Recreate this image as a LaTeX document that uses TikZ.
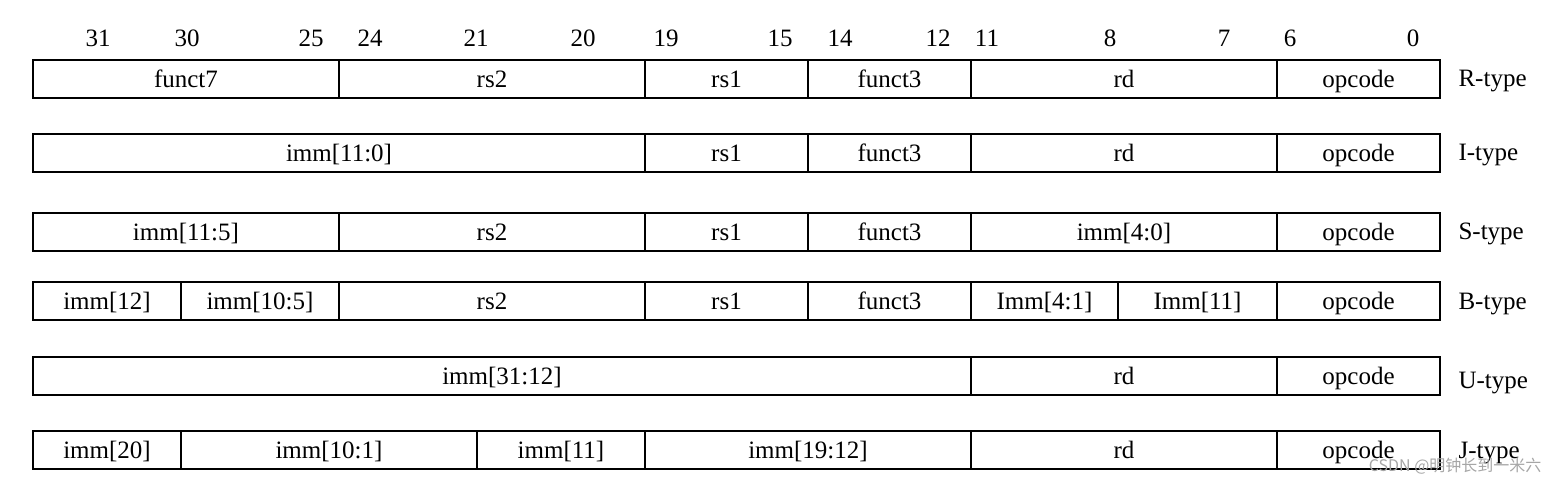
\documentclass[tikz,border=0pt]{standalone}
\usepackage{fontspec}
\setmainfont{Liberation Serif}
\newfontfamily\cjk{Noto Sans CJK SC}
\newcommand{\fld}[6]{\node[fieldbox, minimum width={#3-#2}, minimum height={#5-#4}] (#1) at ({(#2+#3)/2},{(#4+#5)/2}) {#6};}
\begin{document}
\begin{tikzpicture}[x=1pt,y=-1pt,
  fieldbox/.style={draw, line width=1.2pt, inner sep=0pt, outer sep=0pt, font=\fontsize{25}{27}\selectfont, text depth=0pt, anchor=center},
  bitnum/.style={font=\fontsize{25}{27}\selectfont},
  typelab/.style={font=\fontsize{25}{27}\selectfont, anchor=base west}]
\useasboundingbox (0,0) rectangle (1558,486);
% bit numbers
\foreach \v/\x in {31/98,30/187,25/311,24/370,21/476,20/583,19/666,15/780,14/840,12/938,11/987,8/1110,7/1224,6/1290,0/1413}
  \node[bitnum] (b\v) at (\x,38) {\v};
% R
\fld{r1}{33}{339}{60}{98}{funct7}
\fld{r2}{339}{645}{60}{98}{rs2}
\fld{r3}{645}{808}{60}{98}{rs1}
\fld{r4}{808}{971}{60}{98}{funct3}
\fld{r5}{971}{1277}{60}{98}{rd}
\fld{r6}{1277}{1440}{60}{98}{opcode}
\node[typelab] (rt) at (1455,87) {R-type};
% I
\fld{i1}{33}{645}{134}{172}{imm[11:0]}
\fld{i3}{645}{808}{134}{172}{rs1}
\fld{i4}{808}{971}{134}{172}{funct3}
\fld{i5}{971}{1277}{134}{172}{rd}
\fld{i6}{1277}{1440}{134}{172}{opcode}
\node[typelab] (it) at (1455,161) {I-type};
% S
\fld{s1}{33}{339}{213}{251}{imm[11:5]}
\fld{s2}{339}{645}{213}{251}{rs2}
\fld{s3}{645}{808}{213}{251}{rs1}
\fld{s4}{808}{971}{213}{251}{funct3}
\fld{s5}{971}{1277}{213}{251}{imm[4:0]}
\fld{s6}{1277}{1440}{213}{251}{opcode}
\node[typelab] (st) at (1455,240) {S-type};
% B
\fld{bb0}{33}{181}{282}{320}{imm[12]}
\fld{bb1}{181}{339}{282}{320}{imm[10:5]}
\fld{bb2}{339}{645}{282}{320}{rs2}
\fld{bb3}{645}{808}{282}{320}{rs1}
\fld{bb4}{808}{971}{282}{320}{funct3}
\fld{bb5}{971}{1118}{282}{320}{Imm[4:1]}
\fld{bb6}{1118}{1277}{282}{320}{Imm[11]}
\fld{bb7}{1277}{1440}{282}{320}{opcode}
\node[typelab] (bt) at (1455,309) {B-type};
% U
\fld{u1}{33}{971}{357}{395}{imm[31:12]}
\fld{u5}{971}{1277}{357}{395}{rd}
\fld{u6}{1277}{1440}{357}{395}{opcode}
\node[typelab] (ut) at (1455,388) {U-type};
% J
\fld{j0}{33}{181}{431}{469}{imm[20]}
\fld{j1}{181}{477}{431}{469}{imm[10:1]}
\fld{j2}{477}{645}{431}{469}{imm[11]}
\fld{j3}{645}{971}{431}{469}{imm[19:12]}
\fld{j5}{971}{1277}{431}{469}{rd}
\fld{j6}{1277}{1440}{431}{469}{opcode}
\node[typelab] (jt) at (1455,458) {J-type};
\node[anchor=east, text=gray!70, font=\cjk\fontsize{16}{18}\selectfont] (wm) at (1545,466) {CSDN @明钟长到一米六};
\end{tikzpicture}
\end{document}
